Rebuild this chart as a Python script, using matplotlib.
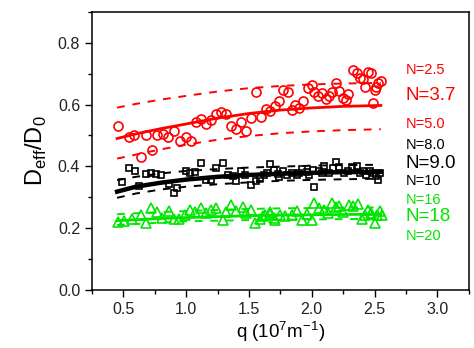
import matplotlib
matplotlib.use("Agg")
import matplotlib.pyplot as plt
from matplotlib.ticker import MultipleLocator

plt.rcParams['font.family'] = ['Liberation Sans', 'DejaVu Sans']
plt.rcParams['mathtext.fontset'] = 'custom'
plt.rcParams['mathtext.rm'] = 'Liberation Sans'

RED = '#ff0000'
BLACK = '#000000'
GREEN = '#00e600'

red_q = [0.455, 0.548, 0.588, 0.64, 0.68, 0.729, 0.766, 0.814, 0.854, 0.907, 0.947, 0.995,
         1.04, 1.08, 1.12, 1.16, 1.20, 1.24, 1.28, 1.32, 1.36, 1.40, 1.44, 1.48, 1.52, 1.555,
         1.595, 1.635, 1.67, 1.71, 1.74, 1.77, 1.81, 1.84, 1.87, 1.90, 1.93, 1.97, 2.0, 2.02,
         2.05, 2.08, 2.11, 2.14, 2.16, 2.19, 2.22, 2.25, 2.27, 2.29, 2.33, 2.36, 2.38, 2.41,
         2.42, 2.45, 2.47, 2.49, 2.50, 2.51, 2.53, 2.55]
red_d = [0.529, 0.494, 0.502, 0.43, 0.502, 0.454, 0.502, 0.504, 0.495, 0.515, 0.483, 0.494,
         0.481, 0.545, 0.553, 0.538, 0.551, 0.569, 0.577, 0.569, 0.529, 0.522, 0.543, 0.515,
         0.556, 0.642, 0.559, 0.585, 0.58, 0.594, 0.612, 0.647, 0.642, 0.583, 0.599, 0.588,
         0.61, 0.653, 0.664, 0.642, 0.626, 0.637, 0.618, 0.626, 0.642, 0.669, 0.644, 0.62,
         0.615, 0.633, 0.712, 0.701, 0.687, 0.683, 0.658, 0.706, 0.701, 0.604, 0.647, 0.658,
         0.669, 0.676]

black_q = [0.49, 0.548, 0.596, 0.628, 0.68, 0.72, 0.76, 0.80, 0.86, 0.90, 0.93, 0.995, 1.03,
           1.07, 1.12, 1.16, 1.20, 1.24, 1.29, 1.33, 1.37, 1.40, 1.44, 1.47, 1.52, 1.555, 1.59,
           1.62, 1.64, 1.67, 1.70, 1.73, 1.74, 1.77, 1.80, 1.84, 1.88, 1.90, 1.92, 1.96, 1.98,
           2.01, 2.02, 2.06, 2.08, 2.10, 2.14, 2.17, 2.19, 2.22, 2.26, 2.29, 2.32, 2.36, 2.38,
           2.41, 2.43, 2.46, 2.49, 2.51, 2.53, 2.54]
black_d = [0.348, 0.393, 0.384, 0.335, 0.375, 0.378, 0.375, 0.373, 0.343, 0.314, 0.33, 0.384,
           0.378, 0.381, 0.411, 0.357, 0.357, 0.395, 0.411, 0.373, 0.368, 0.352, 0.386, 0.371,
           0.339, 0.354, 0.362, 0.371, 0.378, 0.407, 0.389, 0.375, 0.366, 0.386, 0.373, 0.378,
           0.373, 0.378, 0.391, 0.381, 0.371, 0.389, 0.332, 0.384, 0.378, 0.40, 0.378, 0.393,
           0.414, 0.397, 0.378, 0.386, 0.397, 0.402, 0.378, 0.384, 0.373, 0.386, 0.378, 0.368,
           0.357, 0.378]

green_q = [0.455, 0.508, 0.57, 0.64, 0.68, 0.72, 0.77, 0.81, 0.86, 0.90, 0.94, 0.99, 1.03,
           1.07, 1.12, 1.16, 1.20, 1.24, 1.29, 1.32, 1.36, 1.40, 1.45, 1.48, 1.52, 1.545, 1.59,
           1.61, 1.625, 1.67, 1.67, 1.70, 1.71, 1.75, 1.79, 1.84, 1.88, 1.92, 1.96, 2.0, 2.02,
           2.06, 2.10, 2.13, 2.16, 2.19, 2.22, 2.25, 2.30, 2.33, 2.37, 2.40, 2.42, 2.45, 2.47,
           2.50, 2.52, 2.54, 2.56]
green_d = [0.22, 0.223, 0.228, 0.244, 0.217, 0.265, 0.253, 0.233, 0.255, 0.228, 0.228, 0.242,
           0.26, 0.253, 0.265, 0.249, 0.257, 0.265, 0.225, 0.253, 0.276, 0.255, 0.268, 0.249,
           0.257, 0.217, 0.228, 0.239, 0.244, 0.246, 0.253, 0.233, 0.225, 0.242, 0.239, 0.244,
           0.255, 0.225, 0.246, 0.225, 0.282, 0.265, 0.26, 0.249, 0.282, 0.268, 0.271, 0.253,
           0.276, 0.271, 0.278, 0.228, 0.242, 0.26, 0.249, 0.217, 0.244, 0.255, 0.242]

# model curves (solid = middle N, dashed = upper / lower N)
fit_q = [0.45, 0.6, 0.8, 1.0, 1.25, 1.5, 1.75, 2.0, 2.25, 2.55]
red_mid = [0.490, 0.505, 0.522, 0.537, 0.556, 0.571, 0.582, 0.589, 0.594, 0.597]
red_up = [0.590, 0.602, 0.616, 0.628, 0.642, 0.653, 0.660, 0.665, 0.668, 0.670]
red_lo = [0.425, 0.438, 0.455, 0.470, 0.486, 0.498, 0.507, 0.513, 0.517, 0.520]
black_mid = [0.318, 0.334, 0.347, 0.357, 0.366, 0.372, 0.376, 0.379, 0.381, 0.382]
black_up = [0.355, 0.366, 0.377, 0.385, 0.391, 0.396, 0.399, 0.402, 0.404, 0.405]
black_lo = [0.298, 0.312, 0.325, 0.334, 0.342, 0.348, 0.353, 0.356, 0.358, 0.360]
green_mid = [0.224, 0.227, 0.231, 0.234, 0.237, 0.240, 0.242, 0.243, 0.244, 0.245]
green_up = [0.245, 0.248, 0.252, 0.255, 0.259, 0.262, 0.264, 0.265, 0.266, 0.267]
green_lo = [0.210, 0.213, 0.218, 0.222, 0.224, 0.226, 0.227, 0.228, 0.229, 0.230]

labels = [("N=2.5", 0.713, RED, 10.5), ("N=3.7", 0.630, RED, 13.5), ("N=5.0", 0.538, RED, 10.5),
          ("N=8.0", 0.468, BLACK, 10.5), ("N=9.0", 0.410, BLACK, 13.5), ("N=10", 0.351, BLACK, 10.5),
          ("N=16", 0.290, GREEN, 10.5), ("N=18", 0.239, GREEN, 13.5), ("N=20", 0.174, GREEN, 10.5)]

fig = plt.figure(figsize=(4.74, 3.48), dpi=100)
ax = fig.add_axes([0.194, 0.167, 0.795, 0.799])

dash = (0, (4, 4))
for q, d, mid, up, lo, col, mk, ms, lw in [
        (red_q, red_d, red_mid, red_up, red_lo, RED, 'o', 6.5, 2.0),
        (black_q, black_d, black_mid, black_up, black_lo, BLACK, 's', 5, 3.2),
        (green_q, green_d, green_mid, green_up, green_lo, GREEN, '^', 6.5, 2.0)]:
    ax.plot(q, d, linestyle='none', marker=mk, ms=ms, mfc='none', mec=col, mew=1.2)
    ax.plot(fit_q, mid, color=col, lw=lw)
    ax.plot(fit_q, up, color=col, lw=1.4, linestyle=dash)
    ax.plot(fit_q, lo, color=col, lw=1.4, linestyle=dash)

for txt, yv, col, fs in labels:
    ax.text(2.75, yv, txt, color=col, fontsize=fs, va='center', ha='left')

ax.set_xlim(0.25, 3.25)
ax.set_ylim(0.0, 0.9)
ax.xaxis.set_major_locator(MultipleLocator(0.5))
ax.xaxis.set_minor_locator(MultipleLocator(0.25))
ax.yaxis.set_major_locator(MultipleLocator(0.2))
ax.yaxis.set_minor_locator(MultipleLocator(0.1))
ax.set_xticks([0.5, 1.0, 1.5, 2.0, 2.5, 3.0])
ax.set_yticks([0.0, 0.2, 0.4, 0.6, 0.8])
ax.tick_params(which='major', direction='out', length=5, width=1, labelsize=11.5,
               labelcolor='#222222')
ax.tick_params(which='minor', direction='out', length=3, width=1)
for s in ax.spines.values():
    s.set_linewidth(1.1)

ax.set_xlabel(r'q (10$^{7}$m$^{-1}$)', fontsize=13.5, labelpad=2)
ax.set_ylabel(r'D$_{\mathrm{eff}}$/D$_{0}$', fontsize=17, labelpad=6)

fig.savefig("out.png", dpi=100)
